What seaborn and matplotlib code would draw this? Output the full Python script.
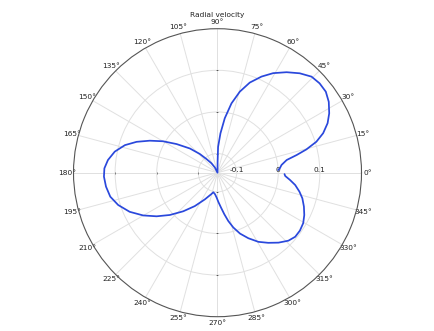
import numpy as np
import pandas as pd
import matplotlib
matplotlib.use("Agg")
import matplotlib.pyplot as plt
import seaborn as sns

# Data (angle in degrees, radial velocity)
angle_deg = [2.5, 4.0, 6.9, 10.4, 12.6, 14.7, 17.4, 20.5, 24.2, 28.0, 32.5, 36.8,
             41.2, 45.6, 50.4, 55.5, 60.8, 65.4, 70.3, 74.6, 78.6, 82.4, 85.7,
             88.7, 89.5, 90.0, 109.0, 116.6, 122.7, 128.8, 133.4, 138.7, 145.0,
             150.0, 154.7, 159.1, 163.4, 168.4, 173.4, 177.8, 182.0, 187.1, 192.6,
             198.0, 204.0, 209.9, 215.6, 221.6, 228.4, 235.8, 244.6, 254.3, 258.0,
             263.4, 268.1, 271.6, 275.7, 279.3, 282.6, 286.1, 290.3, 295.2, 300.6,
             305.9, 311.1, 316.2, 320.5, 324.9, 329.5, 334.0, 338.6, 343.2, 347.0,
             351.0, 354.3, 357.2, 358.8]
radial_velocity = [0.000, 0.004, 0.009, 0.023, 0.049, 0.075, 0.103, 0.125, 0.144,
                   0.158, 0.171, 0.179, 0.180, 0.177, 0.164, 0.147, 0.128, 0.108,
                   0.084, 0.056, 0.024, -0.014, -0.051, -0.084, -0.120, -0.146,
                   -0.146, -0.132, -0.119, -0.104, -0.084, -0.058, -0.026, 0.005,
                   0.034, 0.062, 0.086, 0.106, 0.119, 0.126, 0.127, 0.124, 0.118,
                   0.105, 0.085, 0.060, 0.034, 0.007, -0.022, -0.049, -0.075,
                   -0.093, -0.098, -0.094, -0.086, -0.076, -0.062, -0.045, -0.027,
                   -0.009, 0.010, 0.028, 0.047, 0.062, 0.077, 0.090, 0.096, 0.096,
                   0.093, 0.086, 0.077, 0.067, 0.056, 0.043, 0.029, 0.017, 0.015]

theta_ticks_deg = list(range(0, 360, 15))
theta_tick_labels = [f"{a}°" for a in theta_ticks_deg]
r_ticks = [-0.1, 0.0, 0.1]
r_tick_labels = ["-0.1", "0", "0.1"]
r_min, r_max = -0.146, 0.2
title = "Radial velocity"
# axis lines carrying the small radial tick marks, and their tick orientation
tick_axes_deg = [90, 180, 270]
tick_axes_marker = ["_", "|", "_"]

sns.set_style("white")
plt.rcParams["font.family"] = ["DejaVu Sans"]

W, H = 435, 331
fig = plt.figure(figsize=(W / 100, H / 100), dpi=100)
cx, cy, rad = 217.5, 172.7, 144.0
ax = fig.add_axes([(cx - rad) / W, (H - cy - rad) / H, 2 * rad / W, 2 * rad / H],
                  projection="polar")

df = pd.DataFrame({"theta": np.deg2rad(angle_deg), "r": radial_velocity})
sns.lineplot(data=df, x="theta", y="r", ax=ax, sort=False, estimator=None,
             color="#2a48dc", linewidth=1.25, zorder=3)

# small dark radial tick marks on the 90°, 180° and 270° lines
for a, m in zip(tick_axes_deg, tick_axes_marker):
    ax.scatter(np.full(len(r_ticks), np.deg2rad(a)), r_ticks, marker=m,
               s=2.5, color="#555555", linewidths=0.5, zorder=2)

ax.set_rlim(r_min, r_max)
ax.set_xticks(np.deg2rad(theta_ticks_deg))
ax.set_xticklabels(theta_tick_labels, fontsize=5.3, color="#222222")
ax.set_yticks(r_ticks)
ax.set_yticklabels(r_tick_labels, fontsize=5.3, color="#222222")
ax.set_rlabel_position(0)
for t in ax.yaxis.get_major_ticks():
    t.label1.set_horizontalalignment("center")
    t.label1.set_zorder(5)
ax.tick_params(axis="x", pad=-2.2, size=0)
ax.tick_params(axis="y", pad=0, size=0)
ax.grid(True, color="#e0e0e0", linewidth=0.7)
ax.spines["polar"].set_color("#555555")
ax.spines["polar"].set_linewidth(0.8)
ax.set_xlabel("")
ax.set_ylabel("")
ax.set_title(title, fontsize=5.3, y=1.04, pad=0, color="#222222")

fig.savefig("out.png", dpi=100)
